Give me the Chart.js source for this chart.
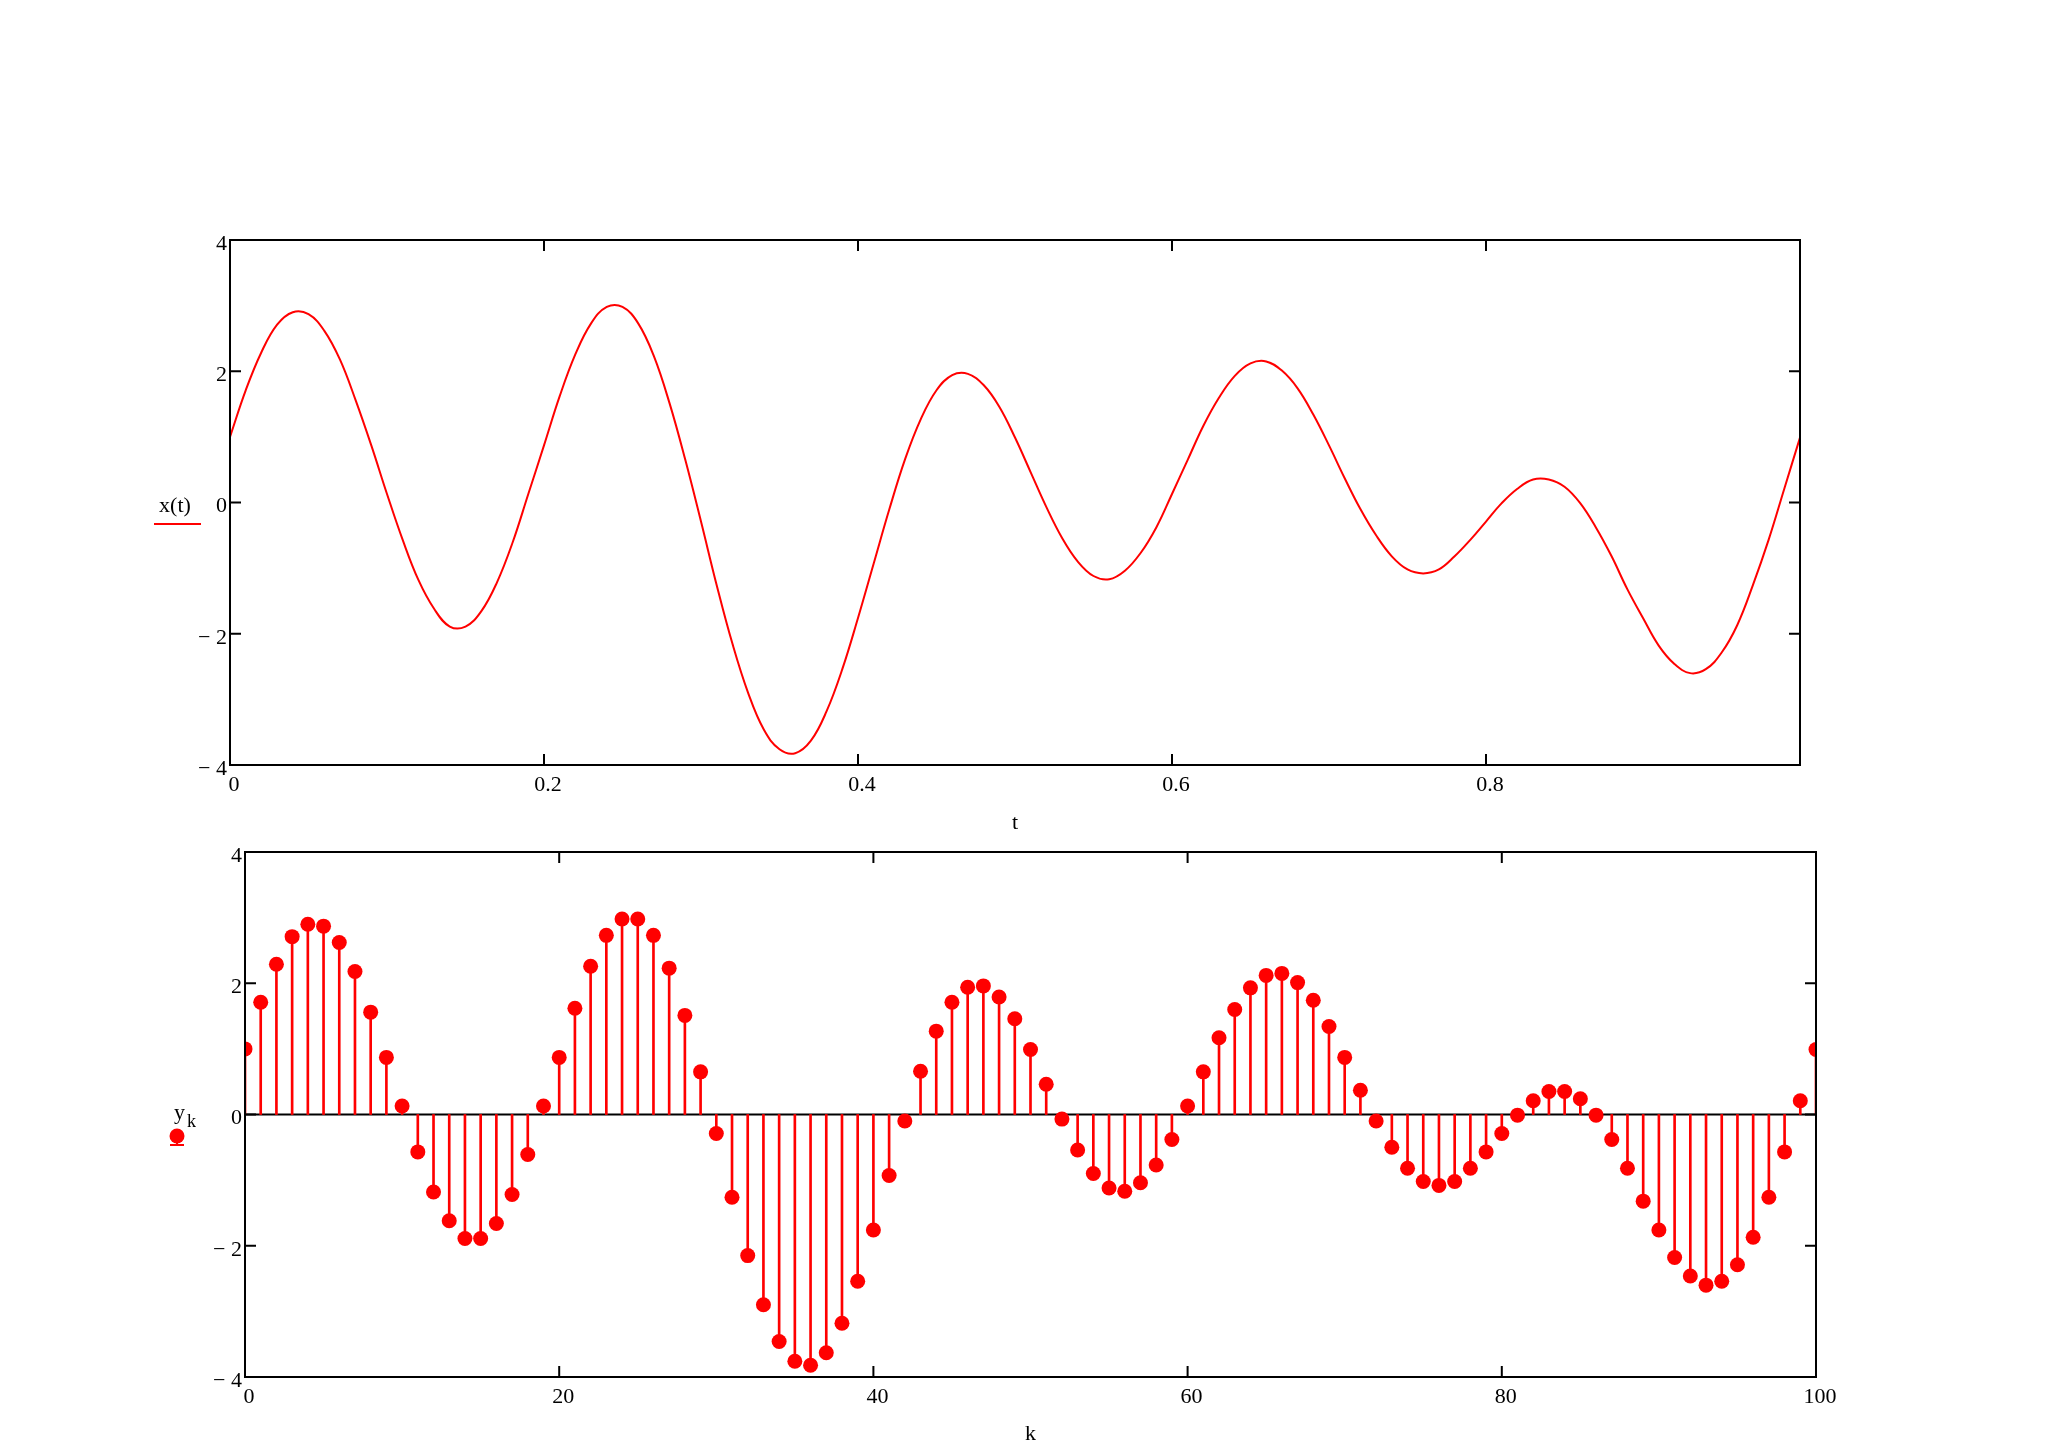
<!DOCTYPE html>
<html>
<head>
<meta charset="utf-8">
<title>x(t) and sampled y_k</title>
<script src="https://cdn.jsdelivr.net/npm/chart.js@4.4.0/dist/chart.umd.min.js"></script>
<style>
    html, body { margin: 0; padding: 0; background: #ffffff; }
    #wrap { position: relative; width: 2048px; height: 1448px; }
    #wrap canvas { position: absolute; left: 0; top: 0; }
</style>
</head>
<body>
<div id="wrap">
    <canvas id="signalChart" width="2048" height="1448"></canvas>
    <canvas id="sampleChart" width="2048" height="1448"></canvas>
</div>
<script>
const yk = [
    1.00, 1.71, 2.29, 2.71, 2.90, 2.87, 2.62, 2.18, 1.56, 0.87,
    0.13, -0.57, -1.18, -1.62, -1.89, -1.89, -1.66, -1.22, -0.61, 0.13,
    0.87, 1.62, 2.26, 2.73, 2.98, 2.98, 2.73, 2.23, 1.51, 0.65,
    -0.29, -1.26, -2.15, -2.90, -3.46, -3.76, -3.82, -3.63, -3.18, -2.54,
    -1.76, -0.93, -0.10, 0.66, 1.27, 1.71, 1.94, 1.96, 1.79, 1.46,
    0.99, 0.46, -0.07, -0.54, -0.90, -1.12, -1.17, -1.04, -0.77, -0.38,
    0.13, 0.65, 1.17, 1.60, 1.93, 2.12, 2.15, 2.01, 1.74, 1.34,
    0.87, 0.37, -0.10, -0.50, -0.82, -1.02, -1.08, -1.02, -0.82, -0.57,
    -0.29, -0.01, 0.21, 0.35, 0.35, 0.24, -0.01, -0.38, -0.82, -1.32,
    -1.76, -2.18, -2.46, -2.60, -2.54, -2.29, -1.87, -1.26, -0.57, 0.21,
    0.99
];
const kIndex = yk.map((v, k) => k);
const tValues = kIndex.map(k => k / 100);

// Axis ticks
const tTicks = [0, 0.2, 0.4, 0.6, 0.8];
const kTicks = [0, 20, 40, 60, 80, 100];
const yTicks = [-4, -2, 0, 2, 4];

const RED = '#ff0000';
const SERIF = "'Liberation Serif', 'Times New Roman', serif";
const TICK_LEN = 11;

Chart.defaults.font.family = SERIF;
Chart.defaults.font.size = 22;
Chart.defaults.color = '#000000';

function fmtY(v) {
    return v < 0 ? '\u2212 ' + (-v) : String(v);
}

// frame + inward tick marks, Mathcad style
const framePlugin = {
    id: 'frame',
    beforeDatasetsDraw(chart, args, opts) {
        if (!opts.zeroLine) return;
        const { ctx, chartArea: a, scales: { y } } = chart;
        const py = y.getPixelForValue(0);
        ctx.save();
        ctx.strokeStyle = '#000';
        ctx.lineWidth = 2;
        ctx.beginPath();
        ctx.moveTo(a.left, py);
        ctx.lineTo(a.right, py);
        ctx.stroke();
        ctx.restore();
    },
    afterDatasetsDraw(chart, args, opts) {
        const { ctx, chartArea: a, scales: { x, y } } = chart;
        ctx.save();
        ctx.strokeStyle = '#000';
        ctx.lineWidth = 2;
        ctx.strokeRect(a.left, a.top, a.right - a.left, a.bottom - a.top);
        ctx.beginPath();
        (opts.xTicks || []).forEach(v => {
            const px = x.getPixelForValue(v);
            ctx.moveTo(px, a.top);
            ctx.lineTo(px, a.top + TICK_LEN);
            ctx.moveTo(px, a.bottom);
            ctx.lineTo(px, a.bottom - TICK_LEN);
        });
        (opts.yTicks || []).forEach(v => {
            const py = y.getPixelForValue(v);
            ctx.moveTo(a.left, py);
            ctx.lineTo(a.left + TICK_LEN, py);
            ctx.moveTo(a.right, py);
            ctx.lineTo(a.right - TICK_LEN, py);
        });
        ctx.stroke();
        ctx.restore();
    }
};

// trace labels at the left of each plot
const traceLabelPlugin = {
    id: 'traceLabel',
    afterDraw(chart, args, opts) {
        const ctx = chart.ctx;
        ctx.save();
        ctx.fillStyle = '#000';
        if (opts.kind === 'line') {
            ctx.font = '22px ' + SERIF;
            ctx.textAlign = 'center';
            ctx.textBaseline = 'alphabetic';
            ctx.fillText('x(t)', 175, 512);
            ctx.strokeStyle = RED;
            ctx.lineWidth = 2;
            ctx.beginPath();
            ctx.moveTo(154, 524);
            ctx.lineTo(201, 524);
            ctx.stroke();
        } else if (opts.kind === 'stem') {
            ctx.font = '22px ' + SERIF;
            ctx.textAlign = 'left';
            ctx.textBaseline = 'alphabetic';
            ctx.fillText('y', 174, 1119);
            ctx.font = '18px ' + SERIF;
            ctx.fillText('k', 187, 1127);
            ctx.strokeStyle = RED;
            ctx.fillStyle = RED;
            ctx.lineWidth = 2;
            ctx.beginPath();
            ctx.moveTo(177, 1137);
            ctx.lineTo(177, 1145);
            ctx.moveTo(170, 1145);
            ctx.lineTo(184, 1145);
            ctx.stroke();
            ctx.beginPath();
            ctx.arc(177, 1136, 7.5, 0, Math.PI * 2);
            ctx.fill();
        }
        ctx.restore();
    }
};

function yScale(width) {
    return {
        type: 'linear',
        min: -4,
        max: 4,
        afterFit(s) { s.width = width; },
        afterBuildTicks(s) { s.ticks = yTicks.map(v => ({ value: v })); },
        ticks: { callback: fmtY, padding: 3, labelOffset: 4, color: '#000' },
        grid: { display: false, drawTicks: false },
        border: { display: false }
    };
}

// top: continuous x(t)
new Chart(document.getElementById('signalChart'), {
    type: 'line',
    data: {
        datasets: [{
            data: tValues.map((t, i) => ({ x: t, y: yk[i] })),
            borderColor: RED,
            borderWidth: 2,
            pointRadius: 0,
            tension: 0.4,
            fill: false
        }]
    },
    options: {
        responsive: false,
        animation: false,
        events: [],
        layout: { padding: { left: 190, right: 248, top: 240, bottom: 612 } },
        plugins: {
            legend: { display: false },
            tooltip: { enabled: false },
            frame: { xTicks: tTicks, yTicks: yTicks },
            traceLabel: { kind: 'line' }
        },
        scales: {
            x: {
                type: 'linear',
                min: 0,
                max: 1,
                afterFit(s) { s.height = 71; },
                afterBuildTicks(s) { s.ticks = tTicks.map(v => ({ value: v })); },
                ticks: { padding: 7, labelOffset: 4, maxRotation: 0, autoSkip: false, color: '#000',
                         callback: v => String(v) },
                grid: { display: false, drawTicks: false },
                border: { display: false },
                title: { display: true, text: 't', color: '#000', padding: 0, font: { size: 22 } }
            },
            y: yScale(40)
        }
    },
    plugins: [framePlugin, traceLabelPlugin]
});

// bottom: stem plot of y_k
new Chart(document.getElementById('sampleChart'), {
    type: 'scatter',
    data: {
        datasets: [
            {
                type: 'scatter',
                order: 0,
                data: kIndex.map(k => ({ x: k, y: yk[k] })),
                backgroundColor: RED,
                borderColor: RED,
                borderWidth: 0,
                pointRadius: 7.5,
                pointHoverRadius: 7.5
            },
            {
                type: 'bar',
                order: 1,
                data: kIndex.map(k => ({ x: k, y: yk[k] })),
                backgroundColor: RED,
                borderWidth: 0,
                barThickness: 2,
                grouped: false
            }
        ]
    },
    options: {
        responsive: false,
        animation: false,
        events: [],
        layout: { padding: { left: 205, right: 232, top: 852, bottom: 1 } },
        plugins: {
            legend: { display: false },
            tooltip: { enabled: false },
            frame: { xTicks: kTicks, yTicks: yTicks, zeroLine: true },
            traceLabel: { kind: 'stem' }
        },
        scales: {
            x: {
                type: 'linear',
                min: 0,
                max: 100,
                offset: false,
                afterFit(s) { s.height = 70; },
                afterBuildTicks(s) { s.ticks = kTicks.map(v => ({ value: v })); },
                ticks: { padding: 7, labelOffset: 4, maxRotation: 0, autoSkip: false, color: '#000' },
                grid: { display: false, drawTicks: false, offset: false },
                border: { display: false },
                title: { display: true, text: 'k', color: '#000', padding: 0, font: { size: 22 } }
            },
            y: yScale(40)
        }
    },
    plugins: [framePlugin, traceLabelPlugin]
});
</script>
</body>
</html>
